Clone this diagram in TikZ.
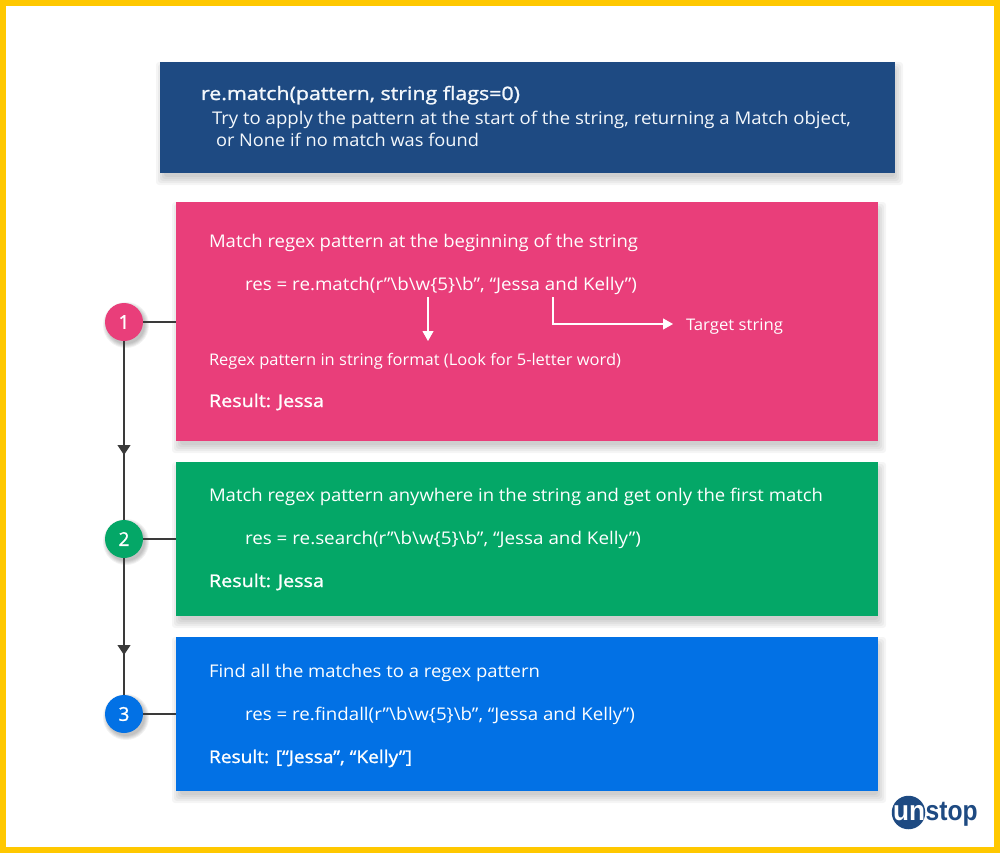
\documentclass[tikz,border=0pt]{standalone}
\usepackage{fontspec}
\usepackage{graphicx}
\setmainfont{Open Sans}[BoldFont={Open Sans},BoldFeatures={FakeBold=1.2}]
\newfontfamily\logofont{Liberation Sans}
\usetikzlibrary{arrows.meta,decorations.markings}
\definecolor{frameY}{HTML}{FFC800}
\definecolor{navy}{HTML}{1E4A82}
\definecolor{pinkB}{HTML}{E93E7A}
\definecolor{greenB}{HTML}{04A767}
\definecolor{blueB}{HTML}{0271E5}
\definecolor{lineD}{HTML}{3A3A3A}
\definecolor{paleT}{HTML}{F4F8FC}
\newcommand\tx[2]{\resizebox{#1pt}{\height}{#2}}
\newcommand\softbox[4]{%
  \foreach \g in {6,4,2,0,-2}{%
    \fill[black,opacity=.04,rounded corners=3pt]
      (#1-\g+2,#2-\g+6) rectangle (#3+\g+2,#4+\g+6);}}
\newcommand\softdisc[2]{%
  \foreach \g in {23,22,21,20,19}{%
    \fill[black,opacity=.05] (#1+2,#2+3) circle (\g);}}
\tikzset{
  panel/.style={draw=none,inner sep=0pt,outer sep=0pt,anchor=north west},
  txt/.style={text=white,inner sep=0pt,outer sep=0pt,anchor=base west,font=\fontsize{17.5}{20}\selectfont},
  small/.style={txt,font=\fontsize{16}{18}\selectfont},
  strong/.style={txt,font=\fontsize{17.5}{20}\selectfont\bfseries},
  badge/.style={circle,minimum size=38pt,inner sep=0pt,outer sep=0pt,text=white,font=\fontsize{19}{20}\selectfont\bfseries},
  link/.style={draw=lineD,line width=1.2pt},
  flow/.style={link,postaction={decorate}},
  pointer/.style={draw=white,line width=1.1pt,-{Triangle[width=11pt,length=10pt]}},
}
\begin{document}
\begin{tikzpicture}[x=1pt,y=-1pt]
\useasboundingbox (0,0) rectangle (1000,853);
\fill[white] (0,0) rectangle (1000,853);
\draw[frameY,line width=6pt] (3,3) rectangle (997,850);

\softbox{160}{62}{895}{173}
\softbox{176}{202}{878}{441}
\softbox{176}{462}{878}{616}
\softbox{176}{637}{878}{791}

\node[panel,fill=navy,minimum width=735pt,minimum height=111pt] (top) at (160,62) {};
\node[panel,fill=pinkB,minimum width=702pt,minimum height=239pt] (boxA) at (176,202) {};
\node[panel,fill=greenB,minimum width=702pt,minimum height=154pt] (boxB) at (176,462) {};
\node[panel,fill=blueB,minimum width=702pt,minimum height=154pt] (boxC) at (176,637) {};

\node[strong,text=paleT,font=\fontsize{18.5}{20}\selectfont\bfseries] (title) at (201,100) {\tx{319}{re.match(pattern, string flags=0)}};
\node[txt,text=paleT] (descA) at (212,125) {\tx{639}{Try to apply the pattern at the start of the string, returning a Match object,}};
\node[txt,text=paleT] (descB) at (216,147) {\tx{263}{or None if no match was found}};

\node[txt] (a1) at (209,247) {\tx{429}{Match regex pattern at the beginning of the string}};
\node[txt] (a2) at (245,290.5) {\tx{392}{res = re.match(r”\textbackslash b\textbackslash w\{5\}\textbackslash b”, “Jessa and Kelly”)}};
\node[small] (a3) at (686,330) {\tx{97}{Target string}};
\node[small] (a4) at (209,365.5) {\tx{412}{Regex pattern in string format (Look for 5-letter word)}};
\node[strong] (a5) at (209,407) {\tx{115}{Result: Jessa}};

\node[txt] (b1) at (209,501) {\tx{614}{Match regex pattern anywhere in the string and get only the first match}};
\node[txt] (b2) at (245,544.5) {\tx{396}{res = re.search(r”\textbackslash b\textbackslash w\{5\}\textbackslash b”, “Jessa and Kelly”)}};
\node[strong] (b3) at (209,587) {\tx{115}{Result: Jessa}};

\node[txt] (c1) at (209,677) {\tx{331}{Find all the matches to a regex pattern}};
\node[txt] (c2) at (245,720.5) {\tx{390}{res = re.findall(r”\textbackslash b\textbackslash w\{5\}\textbackslash b”, “Jessa and Kelly”)}};
\node[strong] (c3) at (209,763) {\tx{203}{Result: [“Jessa”, “Kelly”]}};

% pointers inside the pink box
\coordinate (downS) at (428,297);
\coordinate (downE) at (428,341);
\coordinate (bendS) at (553,297);
\coordinate (bendM) at (553,324);
\coordinate (bendE) at (673,324);
\draw[pointer] (downS) -- (downE);
\draw[pointer] (bendS) -- (bendM) -- (bendE);

\softdisc{124}{322}
\softdisc{124}{539}
\softdisc{124}{714}
\node[badge,fill=pinkB] (n1) at (124,322) {1};
\node[badge,fill=greenB] (n2) at (124,539) {2};
\node[badge,fill=blueB] (n3) at (124,714) {3};

\path[flow,decoration={markings,mark=at position 114pt with {\arrow{Triangle[width=13pt,length=10pt,lineD]}}}] (n1) -- (n2);
\path[flow,decoration={markings,mark=at position 97pt with {\arrow{Triangle[width=13pt,length=10pt,lineD]}}}] (n2) -- (n3);
\draw[link] (n1) -- (n1 -| boxA.west);
\draw[link] (n2) -- (n2 -| boxB.west);
\draw[link] (n3) -- (n3 -| boxC.west);

% logo
\node[circle,fill=navy,minimum size=33.5pt,inner sep=0pt] (logoDisc) at (908.5,812.5) {};
\node[inner sep=0pt,anchor=base west,text=white,font=\logofont\fontsize{28}{30}\selectfont\bfseries] (logoUn) at (893,820.5) {\tx{32}{un}};
\node[inner sep=0pt,anchor=base west,text=navy,font=\logofont\fontsize{28}{30}\selectfont\bfseries] (logoStop) at (925.5,820.5) {\tx{52}{stop}};
\end{tikzpicture}
\end{document}
